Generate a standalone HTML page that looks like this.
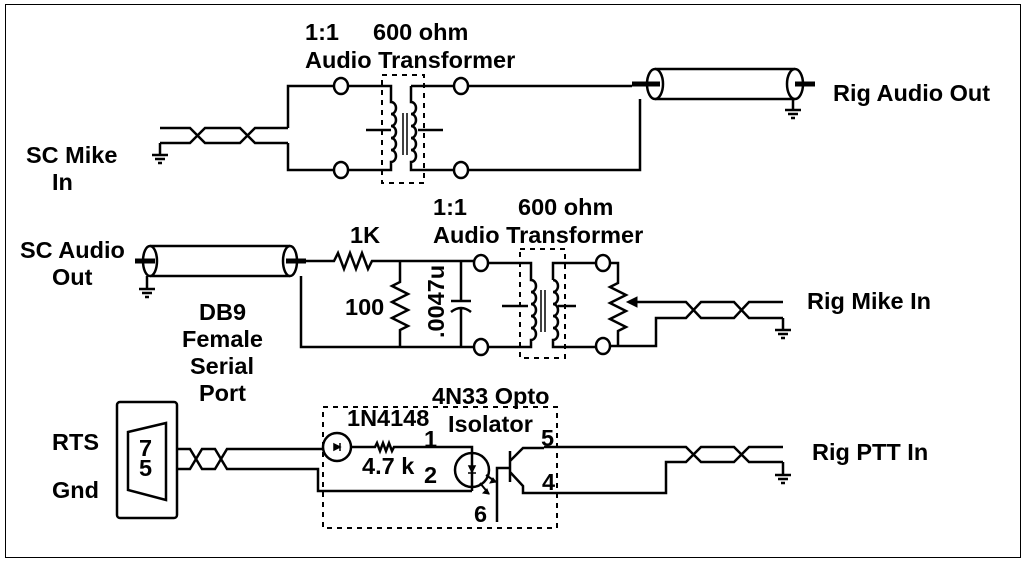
<!DOCTYPE html>
<html><head><meta charset="utf-8"><style>
html,body{margin:0;padding:0;background:#fff;}
svg{display:block;}
text{font-family:"Liberation Sans",sans-serif;font-weight:bold;font-size:23.5px;fill:#000;}
</style></head><body>
<svg width="1027" height="584" viewBox="0 0 1027 584" xmlns="http://www.w3.org/2000/svg">
<rect x="5.5" y="4.5" width="1015" height="553" fill="none" stroke="#000" stroke-width="1"/>
<g fill="none" stroke="#000" stroke-width="2.5" stroke-linejoin="miter">
<!-- Section 1 -->
<path d="M160 128 H190 L205 143 H240 L255 128 H288 M160 143 H190 L205 128 H240 L255 143 H288"/>
<path d="M288 128 V86 H333 M288 143 V170 H333"/>
<path d="M160 143 V155 M152 155 H168 M155 159 H165 M158 163 H162"/>
<ellipse cx="341" cy="86" rx="7" ry="8" fill="#fff"/>
<ellipse cx="341" cy="170" rx="7" ry="8" fill="#fff"/>
<path d="M348 86 H391 V102 a5 6 0 0 1 0 12 a5 6 0 0 1 0 12 a5 6 0 0 1 0 12 a5 6 0 0 1 0 12 a5 6 0 0 1 0 12 V170 H348"/>
<path d="M411 86 V102 a5 6 0 0 1 0 12 a5 6 0 0 1 0 12 a5 6 0 0 1 0 12 a5 6 0 0 1 0 12 a5 6 0 0 1 0 12 V170 H453"/>
<path d="M411 86 H453"/>
<path d="M403 113 V155 M407 113 V155" stroke-width="1.5"/>
<path d="M366 130 H391 M418 130 H443"/>
<rect x="382" y="75" width="42" height="108" stroke-width="2" stroke-dasharray="5 5"/>
<ellipse cx="461" cy="86" rx="7" ry="8" fill="#fff"/>
<ellipse cx="461" cy="170" rx="7" ry="8" fill="#fff"/>
<path d="M468 86 H632 M468 170 H640 V99"/>
<path d="M655 69 H795 M655 99 H795"/>
<ellipse cx="655" cy="84" rx="8" ry="15" fill="#fff"/>
<ellipse cx="795" cy="84" rx="8" ry="15" fill="#fff"/>
<path d="M632 84 H660 M795 84 H815" stroke-width="5"/>
<path d="M793 99 V110 M785 110 H801 M788 114 H798 M791 118 H795"/>
<!-- Section 2 -->
<path d="M150 246 H290 M150 276 H290"/>
<ellipse cx="150" cy="261" rx="7" ry="15" fill="#fff"/>
<ellipse cx="290" cy="261" rx="7" ry="15" fill="#fff"/>
<path d="M135 261 H155 M286 261 H306" stroke-width="5"/>
<path d="M147 276 V289 M139 289 H155 M142 293 H152 M145 297 H149"/>
<path d="M306 261 H334 l4 -8 l6 16 l6 -16 l6 16 l6 -16 l6 16 l4 -8 H474"/>
<path d="M301 276 V347 H474"/>
<path d="M400 261 V282 l-8 4 l16 8 l-16 8 l16 8 l-16 8 l16 8 l-8 4 V347"/>
<path d="M461 261 V301 M451 301 H471 M451 312 Q461 304 471 312 M461 307 V347"/>
<ellipse cx="481" cy="263" rx="7" ry="8" fill="#fff"/>
<ellipse cx="481" cy="347" rx="7" ry="8" fill="#fff"/>
<path d="M488 263 H531 V280 a5 6 0 0 1 0 12 a5 6 0 0 1 0 12 a5 6 0 0 1 0 12 a5 6 0 0 1 0 12 a5 6 0 0 1 0 12 V347 H488"/>
<path d="M553 280 a5 6 0 0 1 0 12 a5 6 0 0 1 0 12 a5 6 0 0 1 0 12 a5 6 0 0 1 0 12 a5 6 0 0 1 0 12 V347 H596 M553 280 V263 H596"/>
<path d="M541 290 V332 M545 290 V332" stroke-width="1.5"/>
<path d="M502 306 H528 M558 306 H576"/>
<rect x="520" y="249" width="45" height="109" stroke-width="2" stroke-dasharray="5 5"/>
<ellipse cx="603" cy="263" rx="7" ry="8" fill="#fff"/>
<ellipse cx="603" cy="346" rx="7" ry="8" fill="#fff"/>
<path d="M610 263 H618 V283 l-8 4 l16 8 l-16 8 l16 8 l-16 8 l16 8 l-8 4 V346 M610 346 H656 V318 H686 L701 302 H734 L749 318 H783 M636 302 H686 L701 318 H734 L749 302 H783"/>
<path d="M627 302 L637 297 L637 307 Z" fill="#000" stroke-width="1"/>
<path d="M783 318 V330 M775 330 H791 M778 334 H788 M781 338 H785"/>
<!-- Section 3 -->
<rect x="117" y="402" width="60" height="116" rx="3"/>
<path d="M128 432 L166 423 V500 L128 490 Z"/>
<path d="M177 449 H190 L202 469 H215 L227 449 H323 M177 469 H190 L202 449 H215 L227 469 H318 V491 H472"/>
<circle cx="337" cy="447" r="14" fill="#fff"/>
<path d="M334 444 L340 447 L334 450 Z M340 443 V451" stroke-width="1.5" fill="#000"/>
<path d="M351 447 H375 l2 -4 l3 8 l3 -8 l3 8 l3 -8 l3 8 l2 -4 H472 V491"/>
<circle cx="472" cy="470" r="17"/>
<path d="M469 466 L475 466 L472 472 Z M468 473 H476" stroke-width="1.5" fill="#000"/>
<path d="M480 483 L489 494 M486 475 L496 482" stroke-width="2"/>
<path d="M489 494 l-6 -1 l4 -4 Z M496 482 l-6 1 l3 -5 Z" fill="#000" stroke-width="1"/>
<path d="M497 522 V468 H510 M510 451 V482 M510 461 L523 448 H544 M510 472 L523 486 V493 H666 V462 H686 L701 447 H734 L749 462 H783 M560 447 H686 L701 462 H734 L749 447 H783"/>
<path d="M544 447 H560"/>
<path d="M783 462 V475 M775 475 H791 M778 479 H788 M781 483 H785"/>
<rect x="323" y="407" width="234" height="121" stroke-width="2" stroke-dasharray="5 5"/>
</g>
<text x="305" y="40">1:1</text><text x="373" y="40">600 ohm</text>
<text x="305" y="68">Audio Transformer</text>
<text x="833" y="101">Rig Audio Out</text>
<text x="26" y="163">SC Mike</text><text x="52" y="190">In</text>
<text x="433" y="215">1:1</text><text x="518" y="215">600 ohm</text>
<text x="433" y="243">Audio Transformer</text>
<text x="350" y="243">1K</text>
<text x="20" y="258">SC Audio</text><text x="52" y="285">Out</text>
<text x="345" y="315">100</text>
<text transform="translate(444 338) rotate(-90)">.0047u</text>
<text x="807" y="309">Rig Mike In</text>
<text x="199" y="320">DB9</text>
<text x="182" y="347">Female</text>
<text x="190" y="374">Serial</text>
<text x="199" y="401">Port</text>
<text x="432" y="404">4N33 Opto</text>
<text x="448" y="432">Isolator</text>
<text x="347" y="426">1N4148</text>
<text x="362" y="474">4.7 k</text>
<text x="424" y="447">1</text>
<text x="424" y="483">2</text>
<text x="474" y="522">6</text>
<text x="541" y="446">5</text>
<text x="542" y="490">4</text>
<text x="52" y="450">RTS</text>
<text x="52" y="498">Gnd</text>
<text x="139" y="456">7</text>
<text x="139" y="476">5</text>
<text x="812" y="460">Rig PTT In</text>
</svg>
</body></html>
